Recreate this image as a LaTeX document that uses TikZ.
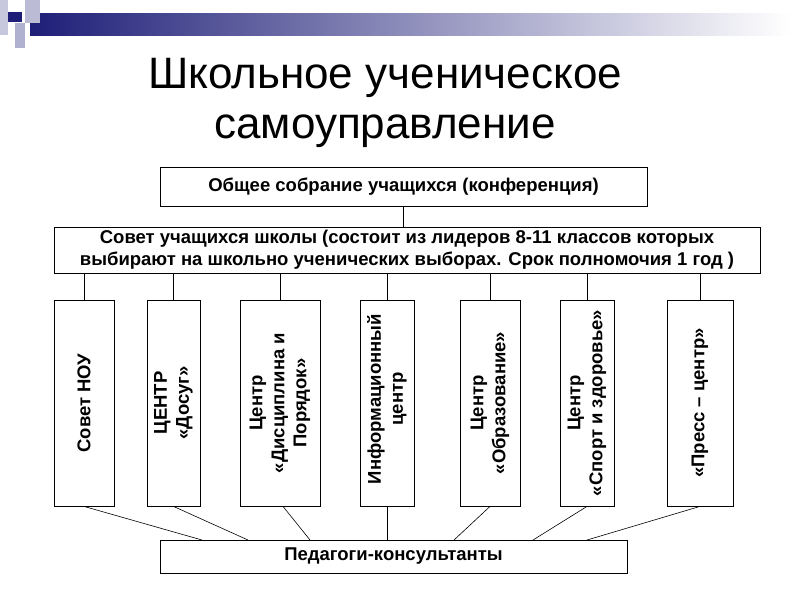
\documentclass[tikz,border=0pt]{standalone}
\usepackage{fontspec}
\setmainfont{Liberation Sans}
\definecolor{navy}{RGB}{30,30,120}
\begin{document}
\begin{tikzpicture}[x=1pt,y=-1pt,
  bx/.style={draw,line width=0.8pt,fill=white,inner sep=0pt},
  lbl/.style={font=\bfseries\fontsize{18.5}{23}\selectfont,align=center},
  vl/.style={font=\bfseries\fontsize{18.5}{22}\selectfont,align=center,rotate=90},
  ln/.style={line width=0.6pt}]
\useasboundingbox (0,0) rectangle (800,600);
\fill[white] (0,0) rectangle (800,600);
% decoration
\shade[left color=navy,right color=white] (30,13) rectangle (790,35);
\fill[navy!30] (25,0) rectangle (40,23);
\fill[navy!35] (15,23) rectangle (25,48);
\fill[navy!25] (0,0) rectangle (8,35);
\fill[navy] (8,12) rectangle (22,22);
% title
\node[font=\fontsize{44}{50}\selectfont,align=center] (title) at (385,103) {Школьное ученическое\\самоуправление};
% boxes
\node[bx,minimum width=487,minimum height=39] (gen) at (403.5,186.5) {};
\node[lbl] at (gen) {Общее собрание учащихся (конференция)};
\node[bx,minimum width=706,minimum height=46] (sov) at (407,250) {};
\node[lbl,font=\bfseries\fontsize{18.5}{22}\selectfont] at (sov) {Совет учащихся школы (состоит из лидеров 8-11 классов которых\\выбирают на школьно ученических выборах. Срок полномочия 1 год )};
\foreach \n/\a/\b in {b1/54/114,b2/147/200,b3/240/320,b4/360/414,b5/460/520,b6/560/614,b7/667/733}{
  \node[bx,minimum width={\b-\a},minimum height=206] (\n) at ({(\a+\b)/2},403) {};
}
\node[vl] at (b1) {Совет НОУ};
\node[vl] at (b2) {ЦЕНТР\\«Досуг»};
\node[vl] at (b3) {Центр\\«Дисциплина и\\Порядок»};
\node[vl] at ([yshift=4]b4.center) {Информационный\\центр};
\node[vl] at (b5) {Центр\\«Образование»};
\node[vl] at (b6) {Центр\\«Спорт и здоровье»};
\node[vl] at (b7) {«Пресс – центр»};
\node[bx,minimum width=467,minimum height=33] (ped) at (393.5,556.5) {};
\node[lbl] at (ped) {Педагоги-консультанты};
% connectors
\draw[ln] (gen.south) -- (gen.south |- sov.north);
\foreach \n in {b1,b2,b3,b4,b5,b6,b7}{
  \draw[ln] (\n.north) -- (\n.north |- sov.south);
}
\coordinate (p1) at (202,540); \coordinate (p2) at (248,540);
\coordinate (p3) at (310,540); \coordinate (p4) at (387,540);
\coordinate (p5) at (454,540); \coordinate (p6) at (533,540);
\coordinate (p7) at (587,540);
\draw[ln] (b1.south) -- (p1);
\draw[ln] (b2.south) -- (p2);
\draw[ln] ([xshift=3]b3.south) -- (p3);
\draw[ln] (b4.south) -- (p4);
\draw[ln] (b5.south) -- (p5);
\draw[ln] (b6.south) -- (p6);
\draw[ln] (b7.south) -- (p7);
\end{tikzpicture}
\end{document}
